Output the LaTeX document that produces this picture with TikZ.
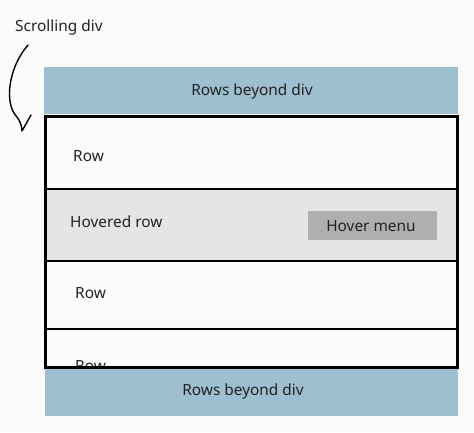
\documentclass[tikz,border=0pt]{standalone}
\usepackage{fontspec}
\setmainfont{Noto Sans}
\begin{document}
\begin{tikzpicture}[x=1pt,y=-1pt,
  lbl/.style={font=\fontsize{15.4}{18}\selectfont, text=textc, inner sep=0pt},
  sep/.style={line width=2.6pt, draw=black}]
\definecolor{beyondblue}{HTML}{9DBFCF}
\definecolor{bgc}{HTML}{FBFBFB}
\definecolor{hovergray}{HTML}{E5E5E5}
\definecolor{menugray}{HTML}{AFAFAF}
\definecolor{textc}{HTML}{222222}
\useasboundingbox[fill=bgc] (0,0) rectangle (474,432);
% top rows beyond div
\fill[beyondblue] (44,67) rectangle (458,114);
\node[lbl] (topb) at (252,91) {Rows beyond div};
% hovered row fill
\fill[hovergray] (46,190) rectangle (456,260);
\fill[menugray] (308,211) rectangle (437,240);
\node[lbl] (menu) at (371,226) {Hover menu};
% rows text
\node[lbl, anchor=west] (r1) at (73,156) {Row};
\node[lbl, anchor=west] (hr) at (70,222) {Hovered row};
\node[lbl, anchor=west] (r2) at (75,293) {Row};
\begin{scope}
\clip (46,330) rectangle (456,367);
\node[lbl, anchor=west] (r3) at (75,366) {Row};
\end{scope}
% separators
\draw[sep] (45,189) -- (457,189);
\draw[sep] (45,261) -- (457,261);
\draw[sep] (45,329) -- (457,329);
% frame
\draw[line width=3pt] (45,116) rectangle (457,367);
% bottom rows beyond div
\fill[beyondblue] (45,369) rectangle (458,416);
\node[lbl] (botb) at (243,391) {Rows beyond div};
% label and hand arrow
\node[lbl, anchor=west] (sd) at (15,27) {Scrolling div};
\draw[line width=1.4pt, line cap=round, line join=round]
  (28,45) .. controls (8,68) and (4,104) .. (17,117)
  .. controls (20,121) and (22,126) .. (22,131)
  (31,115) -- (22,131);
\end{tikzpicture}
\end{document}
